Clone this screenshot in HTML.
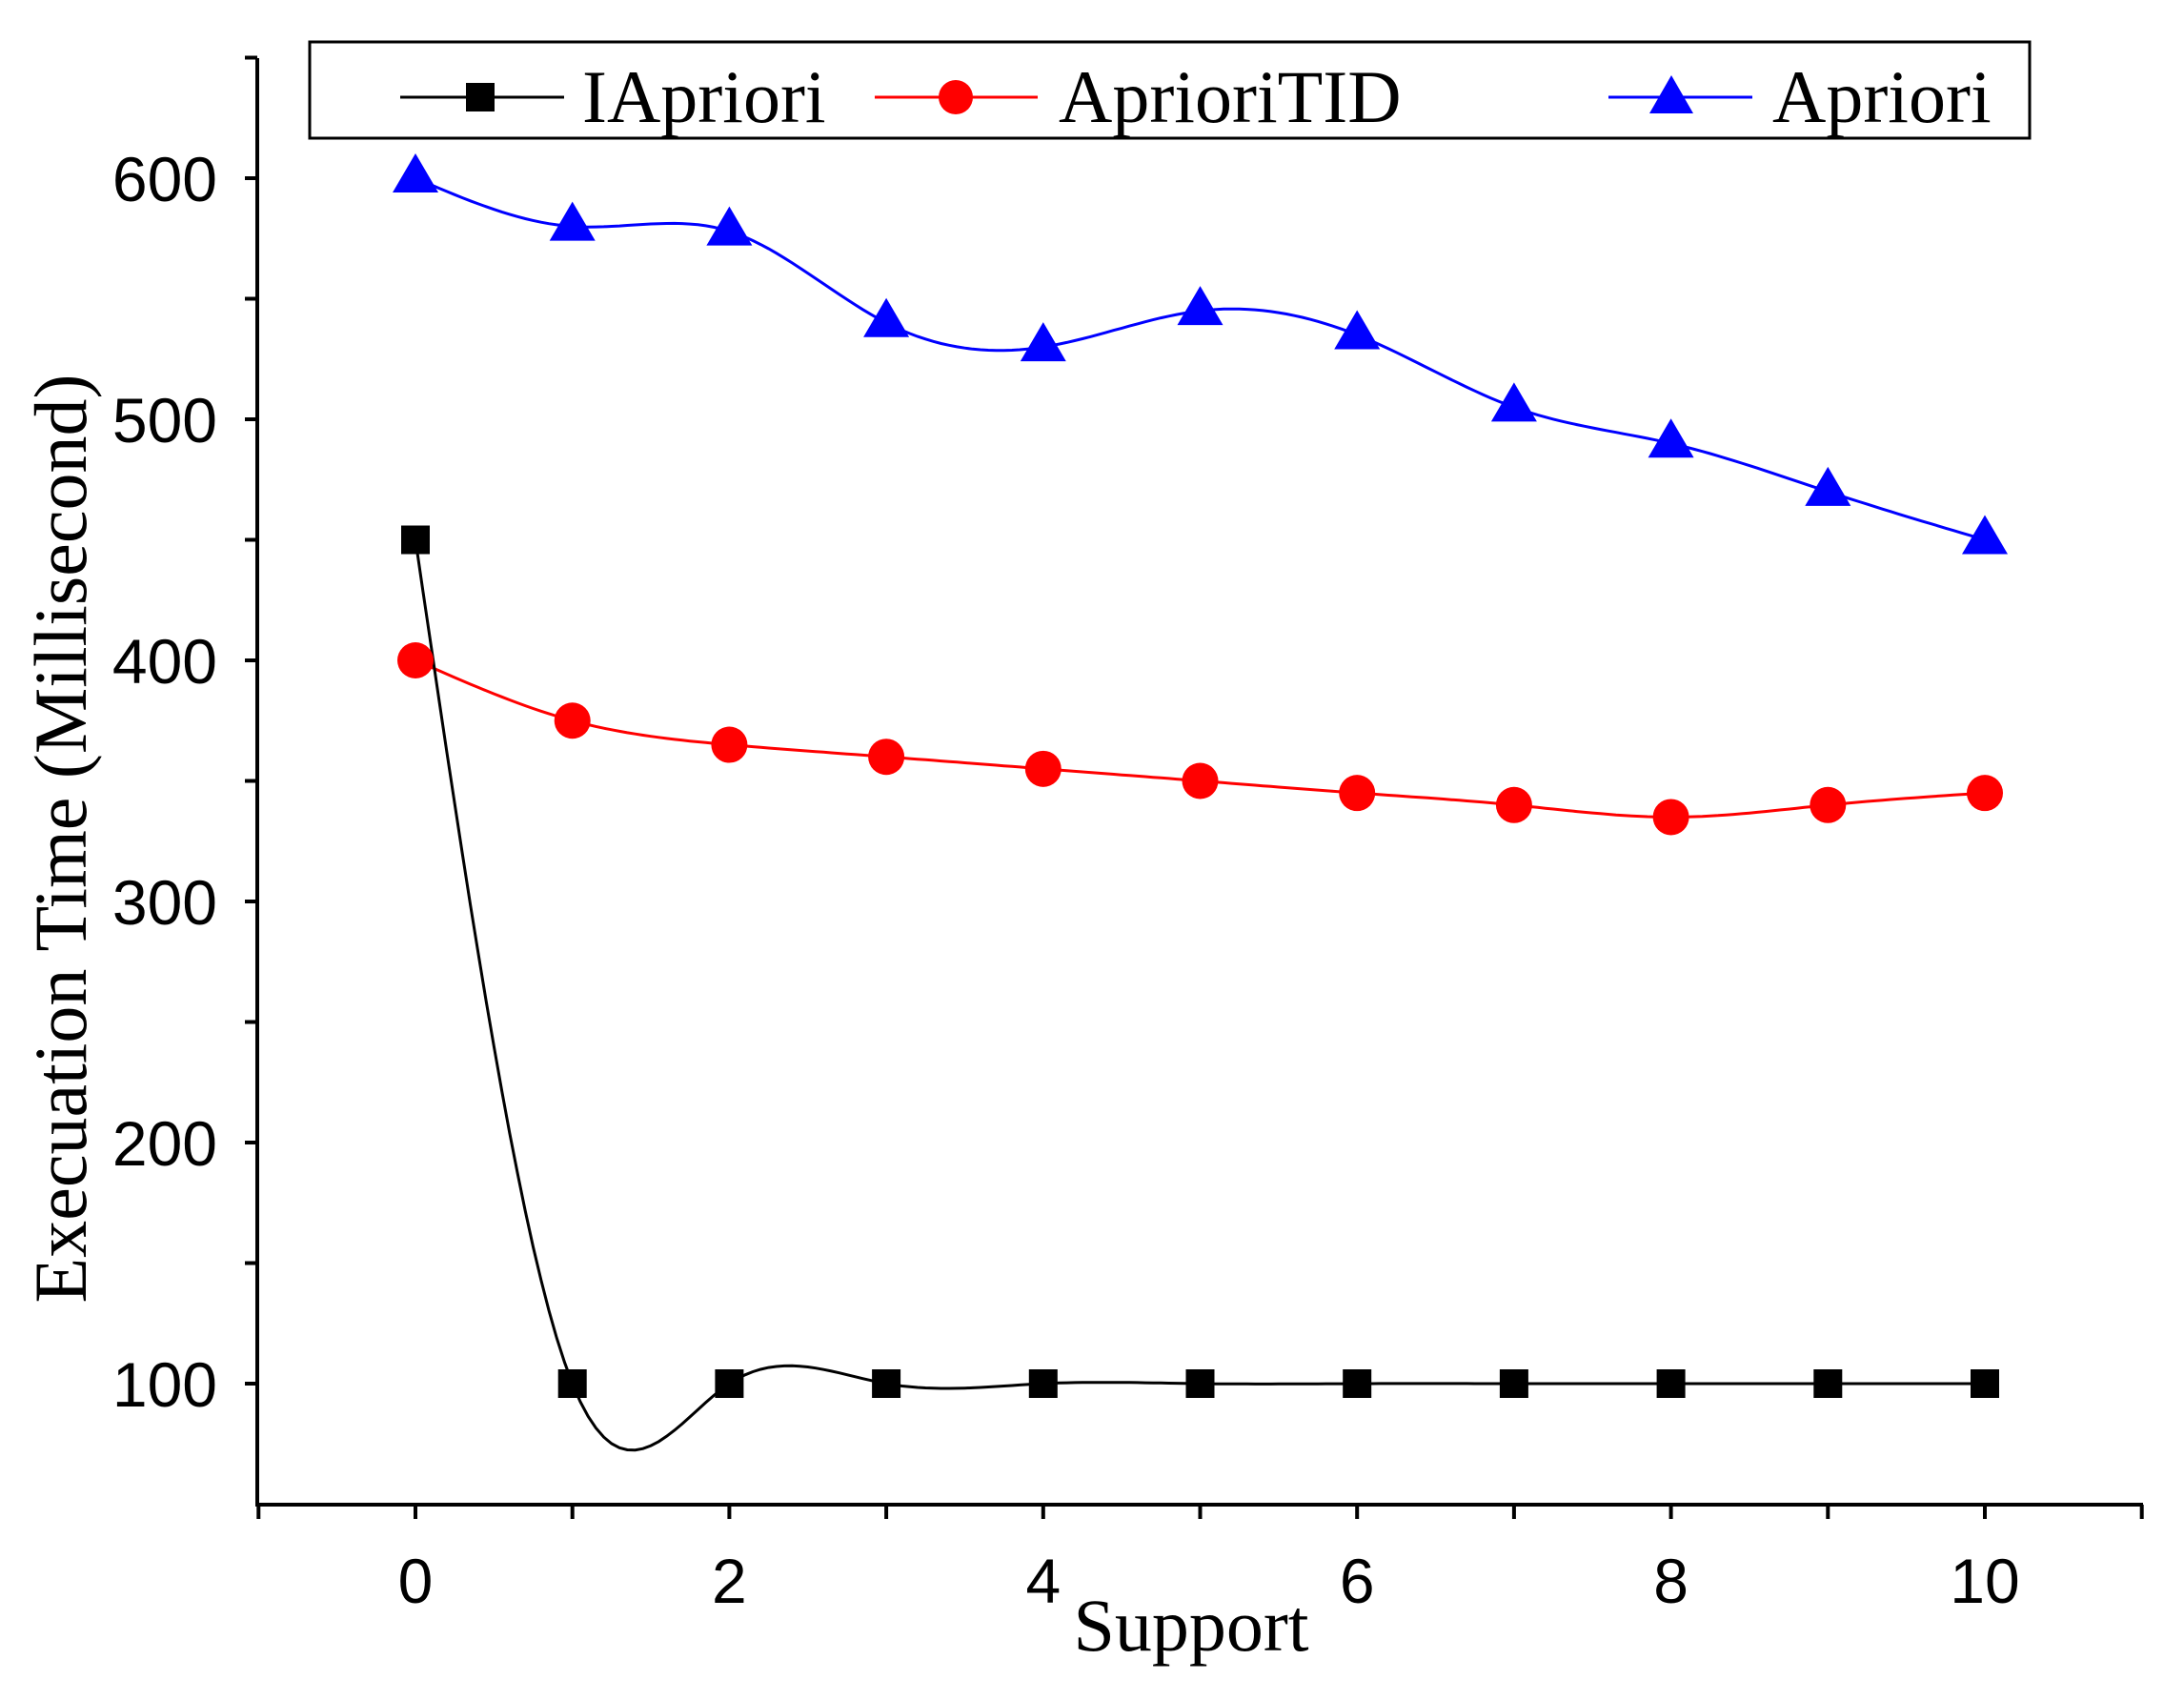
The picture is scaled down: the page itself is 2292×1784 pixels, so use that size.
<!DOCTYPE html>
<html><head><style>html,body{margin:0;padding:0;background:#fff}svg{display:block}</style></head>
<body>
<svg id="s" width="2292" height="1784" viewBox="0 0 2292 1784" xmlns="http://www.w3.org/2000/svg">
<rect width="2292" height="1784" fill="#fff"/>
<g id="axes" stroke="#000" stroke-width="4" fill="none"></g>
<g id="lbl" font-family="Liberation Sans, Arial, sans-serif" font-size="66" fill="#000"></g>
<text x="1250" y="1732" font-family="Liberation Serif, serif" font-size="78" text-anchor="middle">Support</text>
<text transform="translate(90,880) rotate(-90)" font-family="Liberation Serif, serif" font-size="78" text-anchor="middle">Execuation Time (Millisecond)</text>
<rect x="325" y="44" width="1805" height="101" fill="#fff" stroke="#000" stroke-width="3"/>
<line x1="420" y1="102" x2="592" y2="102" stroke="#000" stroke-width="3"/>
<rect x="489" y="87" width="30" height="30" fill="#000"/>
<text x="611" y="128" font-family="Liberation Serif, serif" font-size="78">IApriori</text>
<line x1="918" y1="102" x2="1089" y2="102" stroke="#f00" stroke-width="3"/>
<circle cx="1003" cy="102" r="18" fill="#f00"/>
<text x="1111" y="128" font-family="Liberation Serif, serif" font-size="78">AprioriTID</text>
<line x1="1688" y1="102" x2="1839" y2="102" stroke="#00f" stroke-width="3"/>
<polygon points="1754,79 1777,119 1731,119" fill="#00f"/>
<text x="1860" y="128" font-family="Liberation Serif, serif" font-size="78">Apriori</text>
<g id="series"></g>
</svg>
<script>
var NS="http://www.w3.org/2000/svg";
function X(i){return 436+164.7*i}
function Y(v){return 187+(600-v)*2.53}
function el(p,t,a){var e=document.createElementNS(NS,t);for(var k in a)e.setAttribute(k,a[k]);p.appendChild(e);return e}
var ax=document.getElementById('axes'),lb=document.getElementById('lbl');
el(ax,'line',{x1:270,y1:61,x2:270,y2:1581});
el(ax,'line',{x1:268,y1:1579,x2:2249,y2:1579});
for(var v=100;v<=650;v+=50){var y=Y(v);el(ax,'line',{x1:257,y1:y,x2:270,y2:y});
 if(v%100==0){var t=el(lb,'text',{x:228,y:y+24,'text-anchor':'end'});t.textContent=v;}}
for(var i=-1;i<=11;i++){var x=X(i);if(x<270||x>2250)continue;el(ax,'line',{x1:x,y1:1579,x2:x,y2:1594});
 if(i>=0&&i<=10&&i%2==0){var t=el(lb,'text',{x:x,y:1682,'text-anchor':'middle'});t.textContent=i;}}
function spline(ys){var n=ys.length,a=ys,c=new Array(n).fill(0),l=[1],mu=[0],z=[0];
 for(var i=1;i<n-1;i++){var al=3*(a[i+1]-2*a[i]+a[i-1]);l[i]=4-mu[i-1];mu[i]=1/l[i];z[i]=(al-z[i-1])/l[i];}
 c[n-1]=0;var b=[],d=[];for(var j=n-2;j>=0;j--){c[j]=(z[j]||0)-(mu[j]||0)*c[j+1];b[j]=a[j+1]-a[j]-(c[j+1]+2*c[j])/3;d[j]=(c[j+1]-c[j])/3;}
 var s='';for(var j=0;j<n-1;j++)for(var k=0;k<=20;k++){var t=k/20,v=a[j]+b[j]*t+c[j]*t*t+d[j]*t*t*t;s+=(s?'L':'M')+X(j+t).toFixed(1)+','+Y(v).toFixed(1);}return s;}
var g=document.getElementById('series');
var A=[600,580,578,540,530,545,535,505,490,470,450],T=[400,375,365,360,355,350,345,340,335,340,345],I=[450,100,100,100,100,100,100,100,100,100,100];
el(g,'path',{d:spline(A),fill:'none',stroke:'#00f','stroke-width':3});
el(g,'path',{d:spline(T),fill:'none',stroke:'#f00','stroke-width':3});
el(g,'path',{d:spline(I),fill:'none',stroke:'#000','stroke-width':3});
for(var i=0;i<11;i++){var x=X(i);
 el(g,'polygon',{points:x+','+(Y(A[i])-26)+' '+(x+24)+','+(Y(A[i])+15)+' '+(x-24)+','+(Y(A[i])+15),fill:'#00f'});
 el(g,'circle',{cx:x,cy:Y(T[i]),r:19,fill:'#f00'});
 el(g,'rect',{x:x-15,y:Y(I[i])-15,width:30,height:30,fill:'#000'});}
</script>
</body></html>
